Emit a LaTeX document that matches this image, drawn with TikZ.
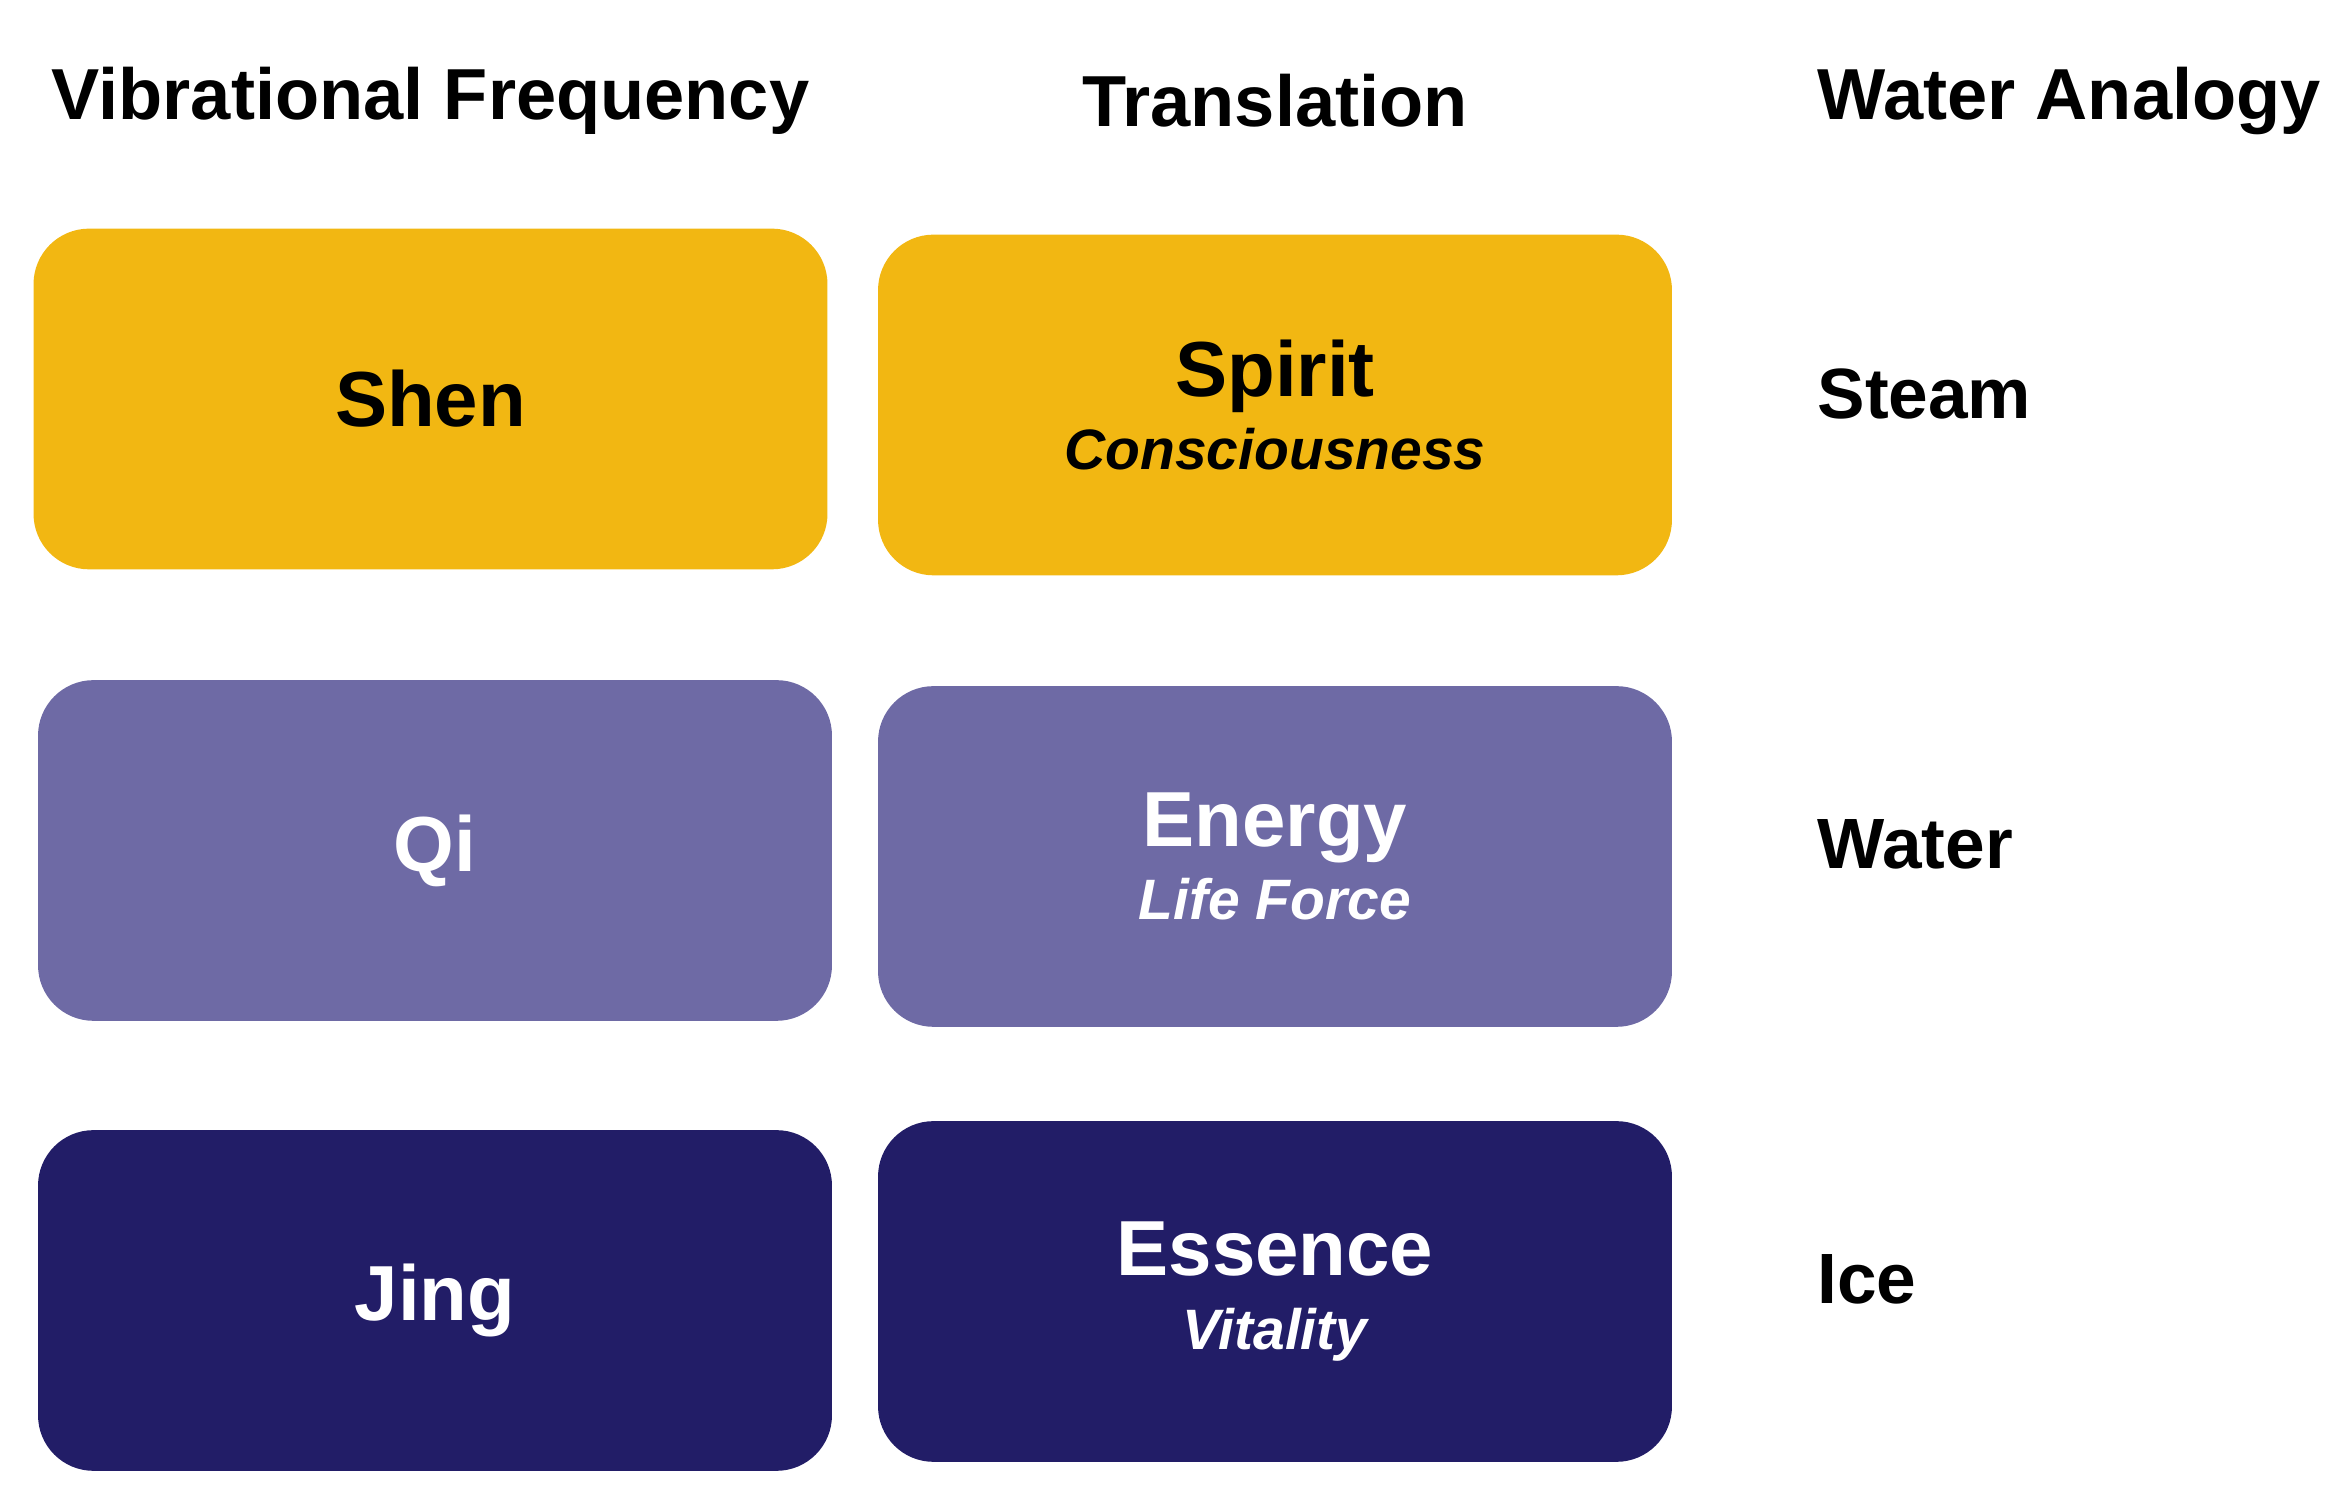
\documentclass[tikz,border=0pt]{standalone}
\usepackage{fontspec}
\setmainfont{Liberation Sans}
\usetikzlibrary{positioning}
\definecolor{shencol}{HTML}{F2B712}
\definecolor{qicol}{HTML}{6E6AA5}
\definecolor{jingcol}{HTML}{221D67}
\tikzset{
  cell/.style={rounded corners=0.37cm,minimum width=5.29cm,minimum height=2.27cm,inner sep=0pt,align=center},
  head/.style={font=\bfseries\fontsize{13.7}{16}\selectfont},
  side/.style={font=\bfseries\fontsize{13.5}{16}\selectfont,anchor=west,inner sep=0pt},
  main/.style={font=\bfseries\fontsize{14.8}{17}\selectfont}
}
\newcommand{\sub}[1]{\\[-3pt]{\fontsize{10.8}{13}\selectfont\bfseries\itshape #1}}
\begin{document}
\begin{tikzpicture}[x=0.01cm,y=-0.01cm]
\useasboundingbox (0,0) rectangle (1560,1004);
% headers
\node[head] (h1) at (287,67) {Vibrational Frequency};
\node[head] (h2) at (850,67) {Translation};
\node[head,anchor=west,inner sep=0pt] (h3) at (1211,67) {Water Analogy};
% rows
\node[cell,fill=shencol,main] (shen) at (287,266) {Shen};
\node[cell,fill=shencol,main] (spirit) at (850,270) {Spirit\sub{Consciousness}};
\node[side] (steam) at (1211,263) {Steam};
\node[cell,fill=qicol,main,text=white] (qi) at (290,567) {Qi};
\node[cell,fill=qicol,main,text=white] (energy) at (850,571) {Energy\sub{Life Force}};
\node[side] (water) at (1211,563) {Water};
\node[cell,fill=jingcol,main,text=white] (jing) at (290,867) {Jing};
\node[cell,fill=jingcol,main,text=white] (essence) at (850,861) {Essence\sub{Vitality}};
\node[side] (ice) at (1211,853) {Ice};
\end{tikzpicture}
\end{document}
